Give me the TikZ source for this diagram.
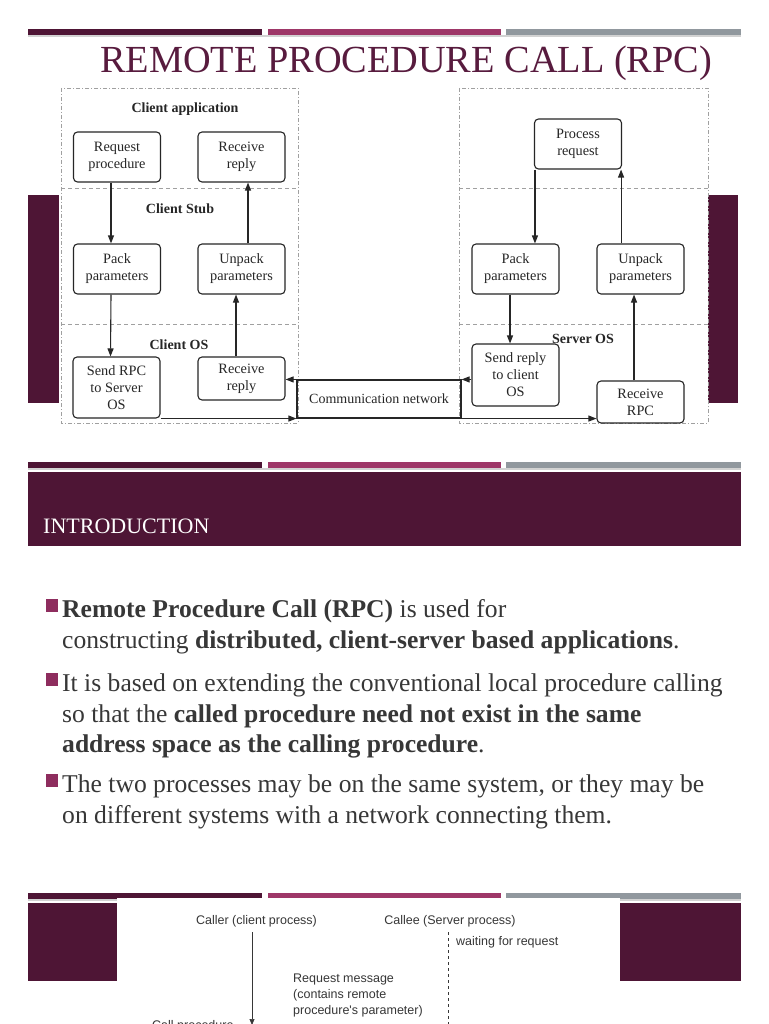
\documentclass[tikz,border=0pt]{standalone}
\usepackage{fontspec}
\setmainfont{Liberation Serif}
\newfontfamily\helv{Liberation Sans}
\usepackage{tikz}
\usetikzlibrary{positioning, arrows.meta}
\usepackage{xcolor}
\definecolor{rpcDark}{RGB}{78, 21, 53}
\definecolor{rpcPink}{RGB}{158, 55, 104}
\definecolor{rpcGray}{RGB}{145, 152, 158}
\definecolor{rpcTitle}{RGB}{88, 27, 62}
\definecolor{rpcBullet}{RGB}{142, 45, 94}
\definecolor{rpcText}{RGB}{55, 55, 55}
\definecolor{frameGray}{RGB}{160, 160, 160}
\newcommand{\rpcbars}[1]{%
  \fill[gray!35] (28,#1+6) rectangle (741,#1+8);
  \fill[rpcDark] (28,#1) rectangle (262,#1+6);
  \fill[rpcPink] (268,#1) rectangle (501,#1+6);
  \fill[rpcGray] (506,#1) rectangle (741,#1+6);
}

\begin{document}
\begin{tikzpicture}[x=1pt, y=-1pt,
  box/.style={draw=black!85, line width=1.1pt, rounded corners=4pt, align=center,
    minimum width=87pt, minimum height=50pt, inner sep=2pt, text=black!85,
    font=\fontsize{14.3}{17}\selectfont},
  lay/.style={font=\bfseries\fontsize{14}{17}\selectfont, text=black!85, inner sep=0},
  arr/.style={-{Triangle[length=8pt, width=6pt]}, line width=1.1pt, draw=black!85},
  frame/.style={draw=frameGray, line width=0.6pt, dash pattern=on 4pt off 2pt on 1pt off 2pt},
  sep/.style={draw=frameGray, line width=0.6pt, dash pattern=on 4pt off 3pt},
  bul/.style={anchor=north west, inner sep=0, align=left, text=rpcText,
    font=\fontsize{25.6}{30.5}\selectfont},
  seq/.style={font=\helv\fontsize{12.5}{16}\selectfont, text=rpcText, inner sep=0}]
  \useasboundingbox (0,0) rectangle (768,1024);
  \clip (0,0) rectangle (768,1024);
  \fill[white] (0,0) rectangle (768,1024);

  % --- Slide 1: RPC diagram ---
  \rpcbars{29}
  \node[anchor=base west, text=rpcTitle, inner sep=0, font=\fontsize{38.3}{40}\selectfont]
    (title) at (100,73) {REMOTE PROCEDURE CALL (RPC)};
  \fill[rpcDark] (28,195) rectangle (59,403);
  \fill[rpcDark] (708,195) rectangle (738,403);

  % client and server frames
  \draw[frame] (61,88) rectangle (298,423);
  \draw[frame] (459,88) rectangle (708,423);
  \draw[sep] (61,188) -- (298,188);
  \draw[sep] (61,324) -- (298,324);
  \draw[sep] (459,188) -- (708,188);
  \draw[sep] (459,324) -- (708,324);

  \node[lay] (capp) at (185,109) {Client application};
  \node[lay] (cstub) at (180,209) {Client Stub};
  \node[lay] (cos) at (179,345) {Client OS};
  \node[lay] (sos) at (583,339) {Server OS};

  % client side
  \node[box] (reqproc) at (117,157) {Request\\procedure};
  \node[box] (recvapp) at (241.5,157) {Receive\\reply};
  \node[box] (packc) at (117,269) {Pack\\parameters};
  \node[box] (unpackc) at (241.5,269) {Unpack\\parameters};
  \node[box, minimum height=61pt] (sendrpc) at (116.5,387.5) {Send RPC\\to Server\\OS};
  \node[box, minimum height=43pt] (recvreply) at (241.5,378.5) {Receive\\reply};

  % server side
  \node[box] (procreq) at (578,144) {Process\\request};
  \node[box] (packs) at (515.5,269) {Pack\\parameters};
  \node[box] (unpacks) at (640.5,269) {Unpack\\parameters};
  \node[box, minimum height=62pt] (sendreply) at (515.5,375) {Send reply\\to client\\OS};
  \node[box, minimum height=42pt] (recvrpc) at (640.5,402) {Receive\\RPC};

  \node[draw=black!85, line width=1.1pt, minimum width=164pt, minimum height=38pt,
    inner sep=0, text=black!85, font=\fontsize{14}{17}\selectfont]
    (net) at (379,399) {Communication network};

  \draw[arr] ([xshift=-6pt]reqproc.south) -- ([xshift=-6pt]packc.north);
  \draw[arr] ([xshift=-6pt]packc.south) -- ([xshift=-6pt]sendrpc.north);
  \draw[arr] ([xshift=-5.5pt]recvreply.north) -- ([xshift=-5.5pt]unpackc.south);
  \draw[arr] ([xshift=6.5pt]unpackc.north) -- ([xshift=6.5pt]recvapp.south);

  \path (procreq.south west) ++(1,0) coordinate (pa);
  \path (procreq.south east) ++(-1,0) coordinate (pb);
  \draw[arr] (pa) -- (pa |- packs.north);
  \draw[arr] (pb |- unpacks.north) -- (pb);
  \draw[arr] ([xshift=-5.5pt]packs.south) -- ([xshift=-5.5pt]sendreply.north);
  \draw[arr] ([xshift=-6.5pt]recvrpc.north) -- ([xshift=-6.5pt]unpacks.south);

  % network links
  \draw[arr] (sendrpc.east |- net.south) -- (net.south west);
  \draw[arr] (net.south east) -- (recvrpc.west |- net.south);
  \draw[arr] (sendreply.west |- net.north) -- (net.north east);
  \draw[arr] (net.north west) -- (recvreply.east |- net.north);

  % --- Slide 2: introduction ---
  \rpcbars{462}
  \fill[rpcDark] (28,472) rectangle (741,546);
  \node[anchor=base west, text=white, inner sep=0, font=\fontsize{22}{24}\selectfont]
    (intro) at (43,533) {INTRODUCTION};

  \node[bul] (b1) at (62,596) {\strut\textbf{Remote Procedure Call (RPC)} is used for\\
    constructing \textbf{distributed, client-server based applications}.};
  \node[bul] (b2) at (62,670) {\strut It is based on extending the conventional local procedure calling\\
    so that the \textbf{called procedure need not exist in the same}\\
    \textbf{address space as the calling procedure}.};
  \node[bul] (b3) at (62,771) {\strut The two processes may be on the same system, or they may be\\
    on different systems with a network connecting them.};
  \foreach \b in {b1, b2, b3}
    \fill[rpcBullet] ([xshift=-16pt, yshift=-3pt]\b.north west) rectangle ++(12,13);

  % --- Slide 3: call sequence ---
  \rpcbars{893}
  \fill[rpcDark] (28,903) rectangle (117,981);
  \fill[rpcDark] (620,903) rectangle (741,981);
  \fill[white] (117,898) rectangle (620,1024);

  \node[seq] (caller) at (256.5,921) {Caller (client process)};
  \node[seq] (callee) at (450,921) {Callee (Server process)};
  \node[seq, anchor=west] (wait) at (456,942) {waiting for request};
  \node[seq, anchor=north west, align=left] (reqmsg) at (293,974)
    {Request message\\(contains remote\\procedure's parameter)};
  \node[seq, anchor=west] (callproc) at (152,1026) {Call procedure};

  \coordinate (clstart) at (252,932);
  \coordinate (clend) at (252,1025);
  \coordinate (cestart) at (448,932);
  \coordinate (ceend) at (448,1024);
  \draw[-{Triangle[length=6pt, width=5pt]}, line width=0.7pt, rpcText] (clstart) -- (clend);
  \draw[line width=0.7pt, rpcText, dash pattern=on 3pt off 3pt] (cestart) -- (ceend);
\end{tikzpicture}
\end{document}
